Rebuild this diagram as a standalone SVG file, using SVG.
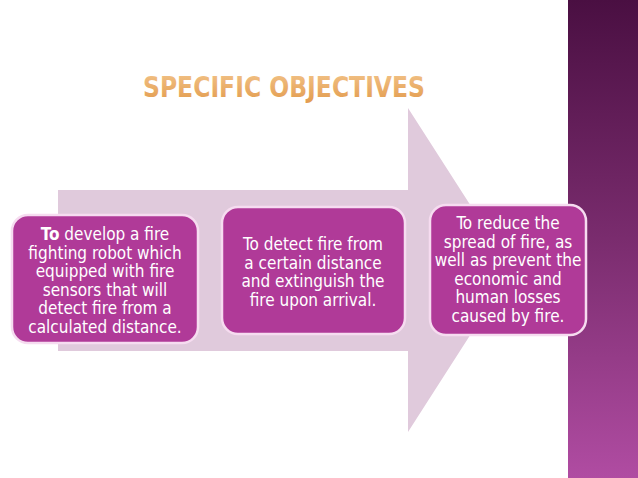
<svg xmlns="http://www.w3.org/2000/svg" width="638" height="478" viewBox="0 0 638 478">
<defs>
<linearGradient id="bar" x1="0" y1="0" x2="0" y2="1"><stop offset="0" stop-color="#4a0f42"/><stop offset="0.5" stop-color="#7a2c6e"/><stop offset="1" stop-color="#b04ca2"/></linearGradient>
<linearGradient id="ttl" x1="0" y1="0" x2="0" y2="1"><stop offset="0" stop-color="#f3c48a"/><stop offset="1" stop-color="#e29a4c"/></linearGradient>
<style>
.box{fill:#b03a98;stroke:#f6dcf0;stroke-width:2.5}
.t{font-family:"DejaVu Sans Condensed","DejaVu Sans",sans-serif;font-size:17px;fill:#fff;text-anchor:middle}
</style>
</defs>
<rect width="638" height="478" fill="#fff"/>
<rect x="568" y="0" width="70" height="478" fill="url(#bar)"/>
<text x="284" y="97" font-family="DejaVu Sans Condensed,sans-serif" font-weight="bold" font-size="29" fill="url(#ttl)" text-anchor="middle" textLength="282" lengthAdjust="spacingAndGlyphs">SPECIFIC OBJECTIVES</text>
<g id="arrow"><polygon points="58,190 408,190 408,108 512,270 408,432 408,351 58,351" fill="#e0cadc"/></g>
<g id="n1"><rect class="box" x="12" y="215" width="186" height="128" rx="16"/>
<text class="t" y="240"><tspan x="105"><tspan font-weight="bold">To</tspan> develop a fire</tspan><tspan x="105" dy="18.6">fighting robot which</tspan><tspan x="105" dy="18.6">equipped with fire</tspan><tspan x="105" dy="18.6">sensors that will</tspan><tspan x="105" dy="18.6">detect fire from a</tspan><tspan x="105" dy="18.6">calculated distance.</tspan></text></g>
<g id="n2"><rect class="box" x="222" y="207" width="183" height="127" rx="16"/>
<text class="t" y="250"><tspan x="313">To detect fire from</tspan><tspan x="313" dy="18.6">a certain distance</tspan><tspan x="313" dy="18.6">and extinguish the</tspan><tspan x="313" dy="18.6">fire upon arrival.</tspan></text></g>
<g id="n3"><rect class="box" x="430" y="205" width="156" height="130" rx="16"/>
<text class="t" y="229"><tspan x="508">To reduce the</tspan><tspan x="508" dy="18.6">spread of fire, as</tspan><tspan x="508" dy="18.6">well as prevent the</tspan><tspan x="508" dy="18.6">economic and</tspan><tspan x="508" dy="18.6">human losses</tspan><tspan x="508" dy="18.6">caused by fire.</tspan></text></g>
<g id="connectors"/>
</svg>
